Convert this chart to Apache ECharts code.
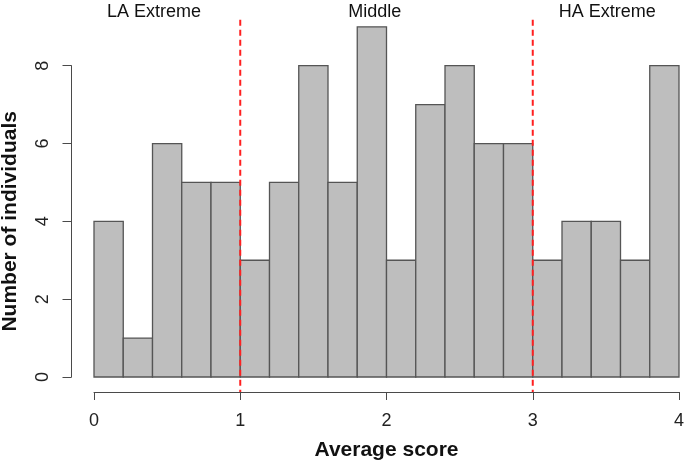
<!DOCTYPE html>
<html>
<head>
<meta charset="utf-8">
<script src="https://cdn.jsdelivr.net/npm/echarts@6/dist/echarts.min.js"></script>
<style>html,body{margin:0;padding:0;background:#fff}#c{width:685px;height:462px}</style>
</head>
<body>
<div id="c"></div>
<script>
var binStarts = [0,0.2,0.4,0.6,0.8,1.0,1.2,1.4,1.6,1.8,2.0,2.2,2.4,2.6,2.8,3.0,3.2,3.4,3.6,3.8];
var binWidth = 0.2;
var counts = [4,1,6,5,5,3,5,8,5,9,3,7,8,6,6,3,4,4,3,8];
var cutoffs = [1, 3];
var groupLabels = ['LA Extreme', 'Middle', 'HA Extreme'];
var groupLabelX = [0.41, 1.92, 3.51];
var xTicks = [0, 1, 2, 3, 4];
var yTicks = [0, 2, 4, 6, 8];

var chart = echarts.init(document.getElementById('c'), null, {renderer: 'canvas'});
var font = 'Liberation Sans, Arial, sans-serif';
var axisColor = '#4a4a4a';

var barData = binStarts.map(function (s, i) { return [s, s + binWidth, counts[i]]; });
var labelData = groupLabels.map(function (t, i) { return [groupLabelX[i], 9.38, t]; });

chart.setOption({
  animation: false,
  grid: {left: 94, right: 6, top: 65.7, bottom: 85, outerBoundsMode: 'none', containLabel: false},
  xAxis: {
    type: 'value', min: xTicks[0], max: xTicks[xTicks.length - 1], interval: 1,
    offset: 15,
    splitLine: {show: false},
    axisLine: {show: true, onZero: false, lineStyle: {color: axisColor, width: 1}},
    axisTick: {show: true, length: 8, lineStyle: {color: axisColor}},
    axisLabel: {color: '#222', fontSize: 18, fontFamily: font, margin: 20},
    name: 'Average score', nameLocation: 'middle', nameGap: 48,
    nameTextStyle: {fontSize: 21, fontWeight: 'bold', color: '#111', fontFamily: font}
  },
  yAxis: {
    type: 'value', min: yTicks[0], max: yTicks[yTicks.length - 1], interval: 2,
    offset: 22.5,
    splitLine: {show: false},
    axisLine: {show: true, onZero: false, lineStyle: {color: axisColor, width: 1}},
    axisTick: {show: true, length: 9, lineStyle: {color: axisColor}},
    axisLabel: {color: '#222', fontSize: 18, fontFamily: font, rotate: 90, margin: 19},
    name: 'Number of individuals', nameLocation: 'middle', nameGap: 51,
    nameTextStyle: {fontSize: 21, fontWeight: 'bold', color: '#111', fontFamily: font}
  },
  series: [
    {
      type: 'custom', clip: false, data: barData,
      encode: {x: [0, 1], y: 2},
      renderItem: function (params, api) {
        var p0 = api.coord([api.value(0), api.value(2)]);
        var p1 = api.coord([api.value(1), 0]);
        return {
          type: 'rect',
          shape: {x: p0[0], y: p0[1], width: p1[0] - p0[0], height: p1[1] - p0[1]},
          style: {fill: '#bebebe', stroke: '#555', lineWidth: 1.3}
        };
      }
    },
    {
      type: 'custom', clip: false, data: cutoffs.map(function (c) { return [c]; }),
      encode: {x: 0},
      z: 5,
      renderItem: function (params, api) {
        var top = api.coord([api.value(0), 9.18]);
        var bot = api.coord([api.value(0), -0.385]);
        return {
          type: 'line',
          shape: {x1: top[0], y1: top[1], x2: bot[0], y2: bot[1]},
          style: {stroke: '#ff2020', lineWidth: 2, lineDash: [6, 4]}
        };
      }
    },
    {
      type: 'custom', clip: false, data: labelData,
      encode: {x: 0, y: 1},
      renderItem: function (params, api) {
        var p = api.coord([api.value(0), api.value(1)]);
        return {
          type: 'text',
          x: p[0], y: p[1],
          style: {text: labelData[params.dataIndex][2], fill: '#111', fontSize: 18, fontFamily: font, align: 'center', verticalAlign: 'middle'}
        };
      }
    }
  ]
});
</script>
</body>
</html>
